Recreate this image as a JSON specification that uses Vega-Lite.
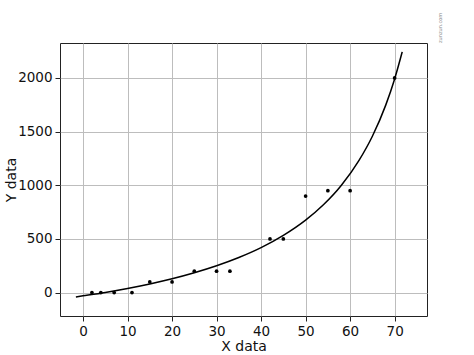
{
  "$schema": "https://vega.github.io/schema/vega-lite/v6.json",
  "width": 367,
  "height": 273,
  "autosize": {"type": "none"},
  "padding": {"left": 60, "top": 43, "right": 47, "bottom": 39},
  "background": "white",
  "config": {
    "font": "DejaVu Sans",
    "view": {"stroke": "#222", "strokeWidth": 1},
    "axis": {
      "grid": true,
      "gridColor": "#bdbdbd",
      "gridWidth": 1,
      "domain": false,
      "tickColor": "#222",
      "tickSize": 5,
      "labelFontSize": 13.5,
      "labelColor": "#111",
      "labelPadding": 3,
      "titleFontSize": 14,
      "titleFontWeight": "normal",
      "titleColor": "#111"
    }
  },
  "title": {
    "text": "zunzun.com",
    "orient": "right",
    "anchor": "start",
    "angle": 270,
    "fontSize": 5,
    "fontWeight": "normal",
    "color": "#888",
    "offset": 6
  },
  "layer": [
    {
      "data": {"values": [
        {"x": -1.6, "y": -40}, {"x": 0, "y": -30}, {"x": 5, "y": 2}, {"x": 10, "y": 39},
        {"x": 15, "y": 81}, {"x": 20, "y": 129}, {"x": 25, "y": 185}, {"x": 30, "y": 250},
        {"x": 35, "y": 327}, {"x": 40, "y": 419}, {"x": 45, "y": 533}, {"x": 50, "y": 675},
        {"x": 54, "y": 818}, {"x": 58, "y": 998}, {"x": 62, "y": 1232}, {"x": 65, "y": 1457},
        {"x": 68, "y": 1747}, {"x": 70, "y": 1991}, {"x": 71.7, "y": 2243}
      ]},
      "mark": {"type": "line", "color": "black", "strokeWidth": 1.5, "interpolate": "monotone"},
      "encoding": {
        "x": {"field": "x", "type": "quantitative", "scale": {"domain": [-5.17, 77.27], "nice": false, "zero": false},
              "axis": {"values": [0, 10, 20, 30, 40, 50, 60, 70], "format": "d", "title": "X data", "titlePadding": 2}},
        "y": {"field": "y", "type": "quantitative", "scale": {"domain": [-218, 2326], "nice": false, "zero": false},
              "axis": {"values": [0, 500, 1000, 1500, 2000], "format": "d", "title": "Y data", "titlePadding": -1}}
      }
    },
    {
      "data": {"values": [
        {"x": 2, "y": 0}, {"x": 4, "y": 0}, {"x": 7, "y": 0}, {"x": 11, "y": 0},
        {"x": 15, "y": 100}, {"x": 20, "y": 100}, {"x": 25, "y": 200}, {"x": 30, "y": 200},
        {"x": 33, "y": 200}, {"x": 42, "y": 500}, {"x": 45, "y": 500}, {"x": 50, "y": 900},
        {"x": 55, "y": 950}, {"x": 60, "y": 950}, {"x": 70, "y": 2000}
      ]},
      "mark": {"type": "circle", "color": "black", "opacity": 1, "size": 14},
      "encoding": {
        "x": {"field": "x", "type": "quantitative"},
        "y": {"field": "y", "type": "quantitative"}
      }
    }
  ]
}
